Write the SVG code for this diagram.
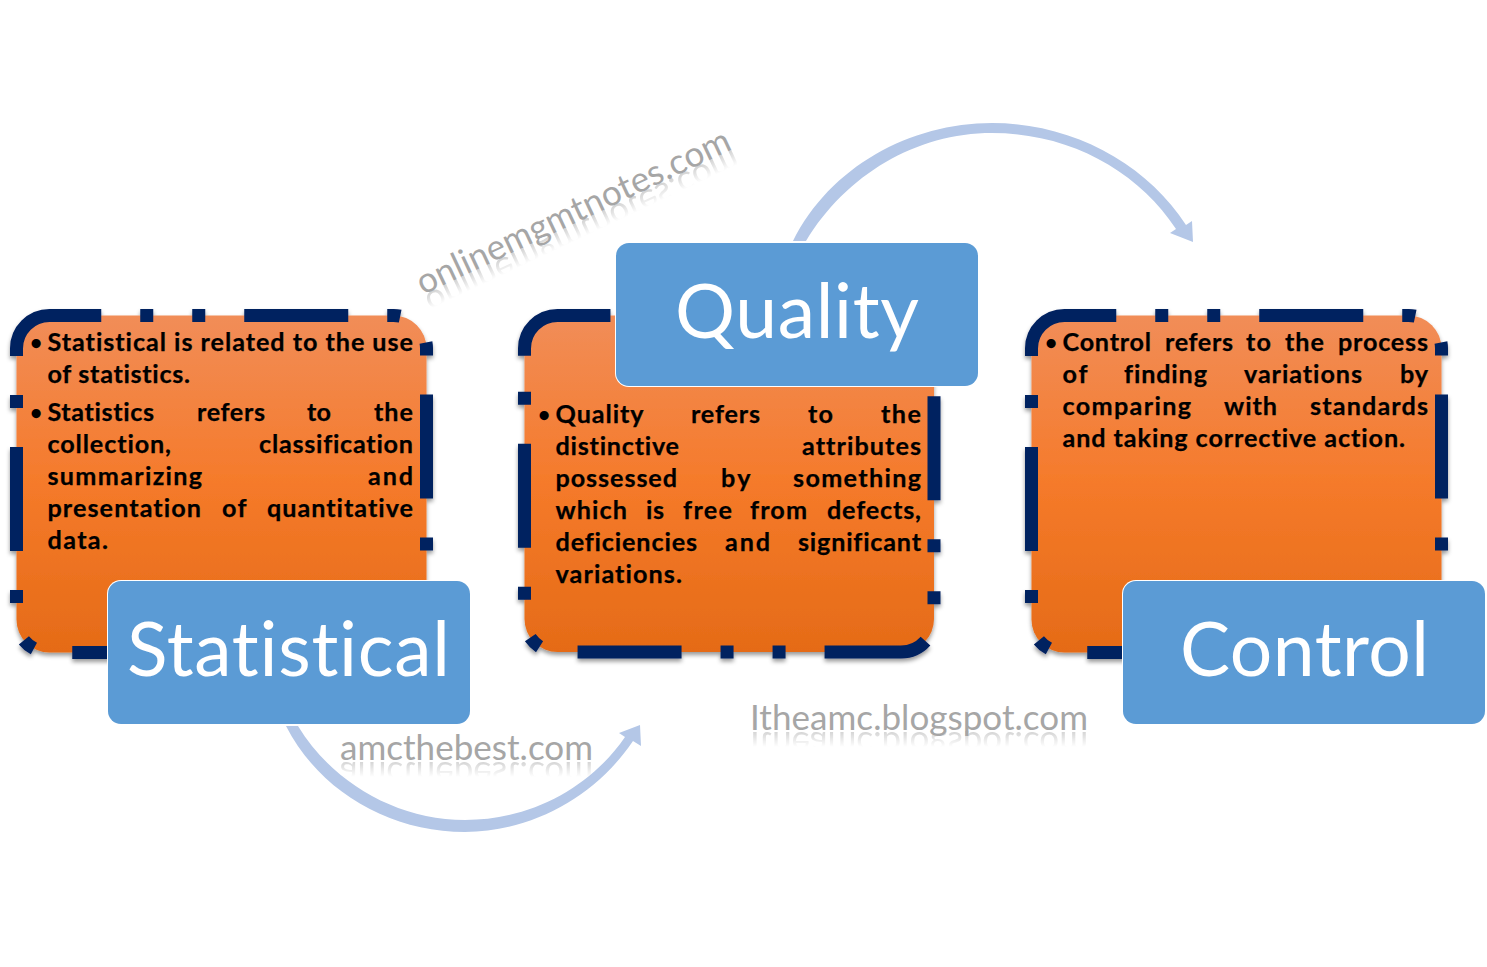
<svg xmlns="http://www.w3.org/2000/svg" width="1487" height="967" viewBox="0 0 1487 967">
<style>
text{font-variant-ligatures:none}
.t{font-family:Lato,"Liberation Sans",sans-serif;font-weight:700;font-size:25.2px;fill:#000;stroke:#000;stroke-width:.25}
.u{font-family:Lato,"Liberation Sans",sans-serif;font-weight:700;font-size:21px;fill:#000}
.h{font-family:Lato,"Liberation Sans",sans-serif;font-weight:400;font-size:75px;fill:#fff}
.w{font-family:Lato,"Liberation Sans",sans-serif;font-weight:400;font-size:35px;fill:#a6a6a6}
.o{fill:url(#og);stroke:none}
.d{fill:none;stroke:#002060;stroke-width:13;stroke-dasharray:110 39 13 39 13 39 104 39 13 39 13 39 104 39 13 39 13 39 104 39 13 39 13 39 104 39 13 39 13 39 104 39 13 39 13 39 200}
.b{fill:#5b9bd5}
.e{fill:#fff}
.a{fill:#b4c7e7}
</style>
<defs>
<linearGradient id="og" x1="0" y1="0" x2="0" y2="1">
<stop offset="0" stop-color="#f18d58"/><stop offset=".5" stop-color="#f57a2a"/><stop offset="1" stop-color="#e56b17"/>
</linearGradient>
<filter id="sh" x="-5%" y="-5%" width="110%" height="112%">
<feDropShadow dx="0" dy="3" stdDeviation="2" flood-color="#000" flood-opacity=".4"/>
</filter>
<linearGradient id="fade" x1="0" y1="0" x2="0" y2="1">
<stop offset="0" stop-color="#fff" stop-opacity=".5"/><stop offset="1" stop-color="#fff" stop-opacity="0"/>
</linearGradient>
<mask id="m1" maskUnits="userSpaceOnUse" x="300" y="740" width="340" height="60"><rect x="300" y="761" width="340" height="16" fill="url(#fade)"/></mask>
<mask id="m2" maskUnits="userSpaceOnUse" x="720" y="710" width="400" height="60"><rect x="720" y="731" width="400" height="16" fill="url(#fade)"/></mask>
<mask id="m3" maskUnits="userSpaceOnUse" x="-20" y="-10" width="400" height="50"><rect x="-20" y="0" width="400" height="16" fill="url(#fade)"/></mask>
</defs>
<rect width="1487" height="967" fill="#fff"/>

<g id="connectors">
<path class="a" d="M286,726C320,792 390,832 465,832C532,832 596,796 633,741L641,746L640,725L619,733L625,737C590,788 530,820 465,820C396,820 332,782 298,726Z"/>
<path class="a" d="M793,241C830,167 910,123 992,123C1072,123 1146,163 1186,225L1192,221L1193,242L1170,233L1176,229C1138,171 1070,133 992,133C916,133 846,175 806,241Z"/>
</g>

<g id="watermarks">
<text id="w1" class="w" x="340" y="760" textLength="253">amcthebest.com</text>
<g mask="url(#m1)"><use href="#w1" transform="translate(0,1522) scale(1,-1)"/></g>
<text id="w2" class="w" x="750" y="730" textLength="338">Itheamc.blogspot.com</text>
<g mask="url(#m2)"><use href="#w2" transform="translate(0,1462) scale(1,-1)"/></g>
<g transform="translate(423,295) rotate(-25.2)">
<text id="w3" class="w" x="0" y="0" textLength="343">onlinemgmtnotes.com</text>
<g mask="url(#m3)"><use href="#w3" transform="scale(1,-1)"/></g>
</g>
</g>

<g id="statistical-box">
<g filter="url(#sh)">
<path class="o" d="M16.5,355V348.5A33,33 0 0 1 49.5,315.5H393.5A33,33 0 0 1 426.5,348.5V619.5A33,33 0 0 1 393.5,652.5H49.5A33,33 0 0 1 16.5,619.5Z"/>
<path class="d" d="M16.5,355V348.5A33,33 0 0 1 49.5,315.5H393.5A33,33 0 0 1 426.5,348.5V619.5A33,33 0 0 1 393.5,652.5H49.5A33,33 0 0 1 16.5,619.5Z"/>
</g>
<text class="u" x="30" y="350">•</text>
<text class="t" x="47.5" y="351" textLength="365.5">Statistical is related to the use</text>
<text class="t" x="47.5" y="383" textLength="142.5">of statistics.</text>
<text class="u" x="30" y="420">•</text>
<text class="t" y="420.5"><tspan x="47.5" textLength="106.5">Statistics</tspan> <tspan x="197" textLength="68">refers</tspan> <tspan x="307" textLength="24">to</tspan> <tspan x="374" textLength="39">the</tspan></text>
<text class="t" y="452.5"><tspan x="47.5" textLength="123.5">collection,</tspan> <tspan x="259" textLength="154">classification</tspan></text>
<text class="t" y="484.5"><tspan x="47.5" textLength="154.5">summarizing</tspan> <tspan x="368" textLength="45">and</tspan></text>
<text class="t" y="516.5"><tspan x="47.5" textLength="153.5">presentation</tspan> <tspan x="222" textLength="24">of</tspan> <tspan x="267" textLength="146">quantitative</tspan></text>
<text class="t" x="47.5" y="548.5" textLength="60.5">data.</text>
</g>

<g id="quality-box">
<g filter="url(#sh)">
<path class="o" d="M524.5,353V348.5A33,33 0 0 1 557.5,315.5H901A33,33 0 0 1 934,348.5V619A33,33 0 0 1 901,652H557.5A33,33 0 0 1 524.5,619Z"/>
<path class="d" style="stroke-dasharray:109.2 39 13 39 13 39 104 39 13 39 13 39 104 39 13 39 13 39 104 39 13 39 13 39 104 39 13 39 13 39 104 39 13 36 13 39 200" d="M524.5,353V348.5A33,33 0 0 1 557.5,315.5H901A33,33 0 0 1 934,348.5V619A33,33 0 0 1 901,652H557.5A33,33 0 0 1 524.5,619Z"/>
</g>
<text class="u" x="538" y="422">•</text>
<text class="t" y="422.5"><tspan x="555.5" textLength="87.5">Quality</tspan> <tspan x="691" textLength="69">refers</tspan> <tspan x="808" textLength="25">to</tspan> <tspan x="881" textLength="40">the</tspan></text>
<text class="t" y="454.5"><tspan x="555.5" textLength="123.5">distinctive</tspan> <tspan x="802" textLength="119">attributes</tspan></text>
<text class="t" y="486.5"><tspan x="555.5" textLength="121.5">possessed</tspan> <tspan x="721" textLength="29">by</tspan> <tspan x="793" textLength="128">something</tspan></text>
<text class="t" y="518.5"><tspan x="555.5" textLength="71.5">which</tspan> <tspan x="646" textLength="18">is</tspan> <tspan x="683" textLength="49">free</tspan> <tspan x="750" textLength="57">from</tspan> <tspan x="827" textLength="94">defects,</tspan></text>
<text class="t" y="550.5"><tspan x="555.5" textLength="141.5">deficiencies</tspan> <tspan x="725" textLength="45">and</tspan> <tspan x="798" textLength="123">significant</tspan></text>
<text class="t" x="555.5" y="582.5" textLength="126.5">variations.</text>
<rect class="e" x="615" y="244" width="362" height="143" rx="14"/>
<rect class="b" x="616" y="243" width="362" height="143" rx="13"/>
<text class="h" x="675" y="338" textLength="244">Quality</text>
</g>

<g id="control-box">
<g filter="url(#sh)">
<path class="o" d="M1031.5,355V348.5A33,33 0 0 1 1064.5,315.5H1408.5A33,33 0 0 1 1441.5,348.5V619.5A33,33 0 0 1 1408.5,652.5H1064.5A33,33 0 0 1 1031.5,619.5Z"/>
<path class="d" d="M1031.5,355V348.5A33,33 0 0 1 1064.5,315.5H1408.5A33,33 0 0 1 1441.5,348.5V619.5A33,33 0 0 1 1408.5,652.5H1064.5A33,33 0 0 1 1031.5,619.5Z"/>
</g>
<text class="u" x="1045" y="350">•</text>
<text class="t" y="351"><tspan x="1062.5" textLength="88.5">Control</tspan> <tspan x="1165" textLength="68">refers</tspan> <tspan x="1246" textLength="25">to</tspan> <tspan x="1285" textLength="39">the</tspan> <tspan x="1338" textLength="90">process</tspan></text>
<text class="t" y="383"><tspan x="1062.5" textLength="24.5">of</tspan> <tspan x="1124" textLength="83">finding</tspan> <tspan x="1244" textLength="118">variations</tspan> <tspan x="1400" textLength="28">by</tspan></text>
<text class="t" y="415"><tspan x="1062.5" textLength="128.5">comparing</tspan> <tspan x="1224" textLength="53">with</tspan> <tspan x="1310" textLength="118">standards</tspan></text>
<text class="t" x="1062.5" y="447" textLength="342.5">and taking corrective action.</text>
<rect class="e" x="1122" y="580" width="362" height="143" rx="14"/>
<rect class="b" x="1123" y="581" width="362" height="143" rx="13"/>
<text class="h" x="1180" y="676" textLength="249">Control</text>
</g>

<g id="statistical-label">
<rect class="e" x="107" y="580" width="362" height="143" rx="14"/>
<rect class="b" x="108" y="581" width="362" height="143" rx="13"/>
<text class="h" x="127" y="676" textLength="323">Statistical</text>
</g>
</svg>
